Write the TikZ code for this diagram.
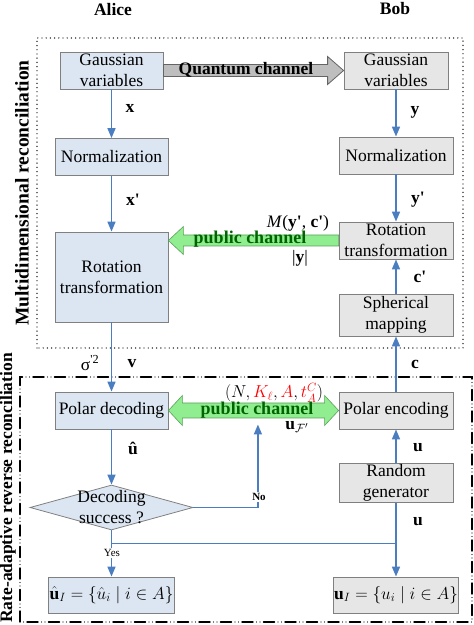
\documentclass[tikz,border=0pt]{standalone}
\usepackage{amsmath,amssymb}
\usepackage{fontspec}
\setmainfont{Liberation Serif}
\usetikzlibrary{shapes.geometric,arrows.meta,positioning,calc}
\definecolor{alicefill}{RGB}{220,230,242}
\definecolor{bobfill}{RGB}{230,230,230}
\definecolor{boxedge}{RGB}{128,128,128}
\definecolor{flowblue}{RGB}{74,126,193}
\definecolor{pubgreen}{RGB}{144,238,144}
\definecolor{pubedge}{RGB}{90,160,90}
\definecolor{pubtext}{RGB}{0,100,0}
\definecolor{qgrey}{RGB}{190,190,190}
\definecolor{qedge}{RGB}{100,100,100}

\begin{document}
\begin{tikzpicture}[
    x=1pt, y=1pt,
    boxtext/.style={font=\fontsize{17.5}{21}\selectfont},
    pbox/.style={rectangle, draw=boxedge, line width=0.8pt, inner sep=1pt, align=center, minimum width=113pt, minimum height=37pt, boxtext},
    abox/.style={pbox, fill=alicefill},
    bbox/.style={pbox, fill=bobfill, minimum width=114pt},
    decision/.style={diamond, draw=boxedge, line width=0.8pt, fill=alicefill, inner sep=0pt, minimum width=163pt, minimum height=45pt},
    flow/.style={-{Triangle[length=10pt,width=8pt]}, line width=1.6pt, flowblue},
    link/.style={line width=1.6pt, flowblue},
    lbl/.style={font=\fontsize{17.5}{21}\selectfont\bfseries, inner sep=1pt},
    small/.style={font=\fontsize{11}{13}\selectfont, inner sep=1pt, fill=white},
    pubarrow/.style={fill=pubgreen, draw=pubedge, line width=0.6pt},
    qarrow/.style={fill=qgrey, draw=qedge, line width=0.8pt},
    pubtxt/.style={font=\fontsize{18}{21}\selectfont\bfseries, text=pubtext},
    side/.style={rotate=90, inner sep=0pt},
    region/.style={line width=1.4pt, line cap=round}
]
\useasboundingbox (0,0) rectangle (474,625);

% regions
\draw[region, dash pattern=on 0pt off 4.2pt] (37,277) rectangle (463,587);
\draw[region, dash pattern=on 11pt off 3.5pt on 0pt off 3.5pt on 0pt off 3.5pt] (20,3) rectangle (472,248);
\node[side, font=\fontsize{19.5}{22}\selectfont\bfseries] (multi) at (22,432) {Multidimensional reconciliation};
\node[side, font=\fontsize{17.5}{20}\selectfont\bfseries] (rate) at (8,137) {Rate-adaptive reverse reconciliation};

% titles
\node[lbl] (alice) at (113,615) {Alice};
\node[lbl] (bob) at (395,616) {Bob};

% Alice side
\node[abox, minimum width=103pt] (ag) at (111.5,554.5) {Gaussian\\variables};
\node[abox] (an) at (111.5,468) {Normalization};
\node[abox, minimum height=90pt] (ar) at (111.5,348) {Rotation\\transformation};
\node[abox] (apd) at (111.5,214.5) {Polar decoding};
\node[decision] (dia) at (111.5,117.5) {};
\node[boxtext, align=center, inner sep=0pt] (dtxt) at (dia) {Decoding\\success ?};
\node[abox, minimum height=36pt] (aui) at (111.5,30) {$\hat{\mathbf{u}}_I=\left\{\hat{u}_i \mid i\in A\right\}$};

% Bob side
\node[bbox, minimum width=104pt] (bg) at (396,554.5) {Gaussian\\variables};
\node[bbox] (bn) at (396,469.5) {Normalization};
\node[bbox] (br) at (396,384.5) {Rotation\\transformation};
\node[bbox, minimum height=42pt] (bs) at (396,310) {Spherical\\mapping};
\node[bbox] (bpe) at (396,214.5) {Polar encoding};
\node[bbox, minimum height=38pt] (brg) at (396,142) {Random\\generator};
\node[bbox, minimum height=36pt] (bui) at (396,30) {$\mathbf{u}_I=\left\{u_i \mid i\in A\right\}$};

% channels
\draw[qarrow] ($(ag.east)+(0,6)$) -- ($(bg.west)+(-16,6)$) -- ($(bg.west)+(-16,14)$) -- (bg.west)
    -- ($(bg.west)+(-16,-14)$) -- ($(bg.west)+(-16,-6)$) -- ($(ag.east)+(0,-6)$) -- cycle;
\node[font=\fontsize{17.5}{21}\selectfont\bfseries] (qlbl) at (246,555) {Quantum channel};

\coordinate (ptip) at (ar.east |- br.west);
\draw[pubarrow] ($(br.west)+(0,5.5)$) -- ($(ptip)+(15,5.5)$) -- ($(ptip)+(15,14)$) -- (ptip)
    -- ($(ptip)+(15,-14)$) -- ($(ptip)+(15,-5.5)$) -- ($(br.west)+(0,-5.5)$) -- cycle;
\node[pubtxt] (lpub1) at (250,386) {public channel};
\node[boxtext] (lm) at (298,402) {\textit{M}(\textbf{y\textquotesingle}, \textbf{c\textquotesingle})};
\node[boxtext] (lnorm) at (300,367) {|\textbf{y}|};

\draw[pubarrow] (apd.east) -- ($(apd.east)+(14,15)$) -- ($(apd.east)+(14,7.5)$) -- ($(bpe.west)+(-14,7.5)$)
    -- ($(bpe.west)+(-14,15)$) -- (bpe.west) -- ($(bpe.west)+(-14,-15)$) -- ($(bpe.west)+(-14,-7.5)$)
    -- ($(apd.east)+(14,-7.5)$) -- ($(apd.east)+(14,-15)$) -- cycle;
\node[pubtxt] (lpub2) at (257,215) {public channel};
\node[boxtext] (lpar) at (274,232) {$(N,\textcolor{red}{K_\ell},\textcolor{red}{A},\textcolor{red}{t_A^C})$};
\node[boxtext] (luf) at (297,198) {$\mathbf{u}_{\mathcal{F}'}$};

% flows
\coordinate (nofb) at ($(apd.east)!.526!(bpe.west)+(0,-14)$);
\coordinate (ja) at ($(dia.south)+(0,-13)$);
\draw[flow] (ag) -- (an);
\draw[flow] (an) -- (ar);
\draw[flow] (ar) -- (apd);
\draw[flow] (apd) -- (dia);
\draw[flow] (dia) -- (aui);
\draw[flow] (dia.east) -| (nofb);
\draw[flow] (bg) -- (bn);
\draw[flow] (bn) -- (br);
\draw[flow] (bs) -- (br);
\draw[flow] (bpe) -- (bs);
\draw[flow] (brg) -- (bpe);
\draw[flow] (brg) -- (bui);
\draw[link] (ja) -- (ja -| bui.north);

% labels
\node[lbl] (lx) at (130,517) {x};
\node[lbl] (lxp) at (133,425) {x\textquotesingle};
\node[lbl] (ly) at (415,513) {y};
\node[lbl] (lyp) at (418,425) {y\textquotesingle};
\node[lbl] (lcp) at (420,348) {c\textquotesingle};
\node[lbl] (lc) at (415,261) {c};
\node[boxtext, inner sep=1pt] (lsig) at (90,262) {σ\textsuperscript{\textquotesingle2}};
\node[lbl] (lv) at (132,261) {v};
\node[lbl] (luh) at (133,177) {û};
\node[lbl] (lu) at (418,177) {u};
\node[lbl] (lu2) at (418,103) {u};
\node[small] (lyes) at (112,72) {Yes};
\node[small, font=\fontsize{11}{13}\selectfont\bfseries] (lno) at (259,128) {No};
\end{tikzpicture}
\end{document}
